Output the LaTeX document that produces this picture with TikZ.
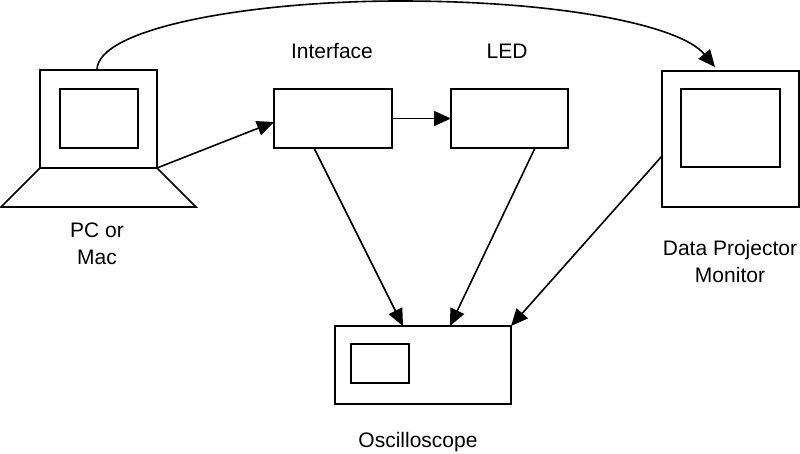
\documentclass[tikz,border=0pt]{standalone}
\usepackage{fontspec}
\setmainfont{Liberation Sans}
\usetikzlibrary{arrows.meta}
\begin{document}
\begin{tikzpicture}[x=1pt,y=-1pt,
  line width=1.6pt,
  every node/.style={inner sep=0pt,outer sep=0pt},
  box/.style={draw,rectangle},
  lbl/.style={font=\fontsize{21}{27}\selectfont,align=center},
  arr/.style={-{Triangle[length=17pt,width=15pt]}}]
\useasboundingbox (0,0) rectangle (800,454);
% PC / Mac
\node[box,minimum width=117pt,minimum height=98pt] (pc) at (98.5,119) {};
\node[box,minimum width=78pt,minimum height=59pt] (pcscr) at (99,118.5) {};
\coordinate (pcbl) at (1,207);
\coordinate (pcbr) at (196,207);
\draw (pc.south west) -- (pcbl) -- (pcbr) -- (pc.south east);
\node[lbl] (pclbl) at (97,244) {PC or\\Mac};
% Interface & LED
\node[box,minimum width=118pt,minimum height=59pt] (iface) at (333,118.5) {};
\node[lbl] (ifacelbl) at (332,51) {Interface};
\node[box,minimum width=117pt,minimum height=59pt] (led) at (509.5,118.5) {};
\node[lbl] (ledlbl) at (507,51) {LED};
% Monitor
\node[box,minimum width=137pt,minimum height=136pt] (mon) at (730.5,139) {};
\node[box,minimum width=99pt,minimum height=78pt] (monscr) at (730.5,128) {};
\node[lbl] (monlbl) at (730,261) {Data Projector\\Monitor};
% Oscilloscope
\node[box,minimum width=176pt,minimum height=78pt] (osc) at (423,365) {};
\node[box,minimum width=58pt,minimum height=39pt] (oscscr) at (380,363.5) {};
\node[lbl] (osclbl) at (418,442) {Oscilloscope};
% connectors
\draw[arr] ([xshift=-1.5pt]pc.north) .. controls (97,28) and (250,1) .. (400,1)
  .. controls (560,1) and (680,25) .. ([xshift=-15.5pt,yshift=4pt]mon.north);
\draw[arr] (pc.south east) -- ([yshift=-3.5pt]iface.west);
\draw[arr] (iface.east) -- (led.west);
\draw[arr] ([xshift=-19pt]iface.south) -- ([xshift=-20pt]osc.north);
\draw[arr] ([xshift=25.5pt]led.south) -- ([xshift=27pt]osc.north);
\draw[arr] ([yshift=-17pt]mon.west) -- (osc.north east);
\end{tikzpicture}
\end{document}
